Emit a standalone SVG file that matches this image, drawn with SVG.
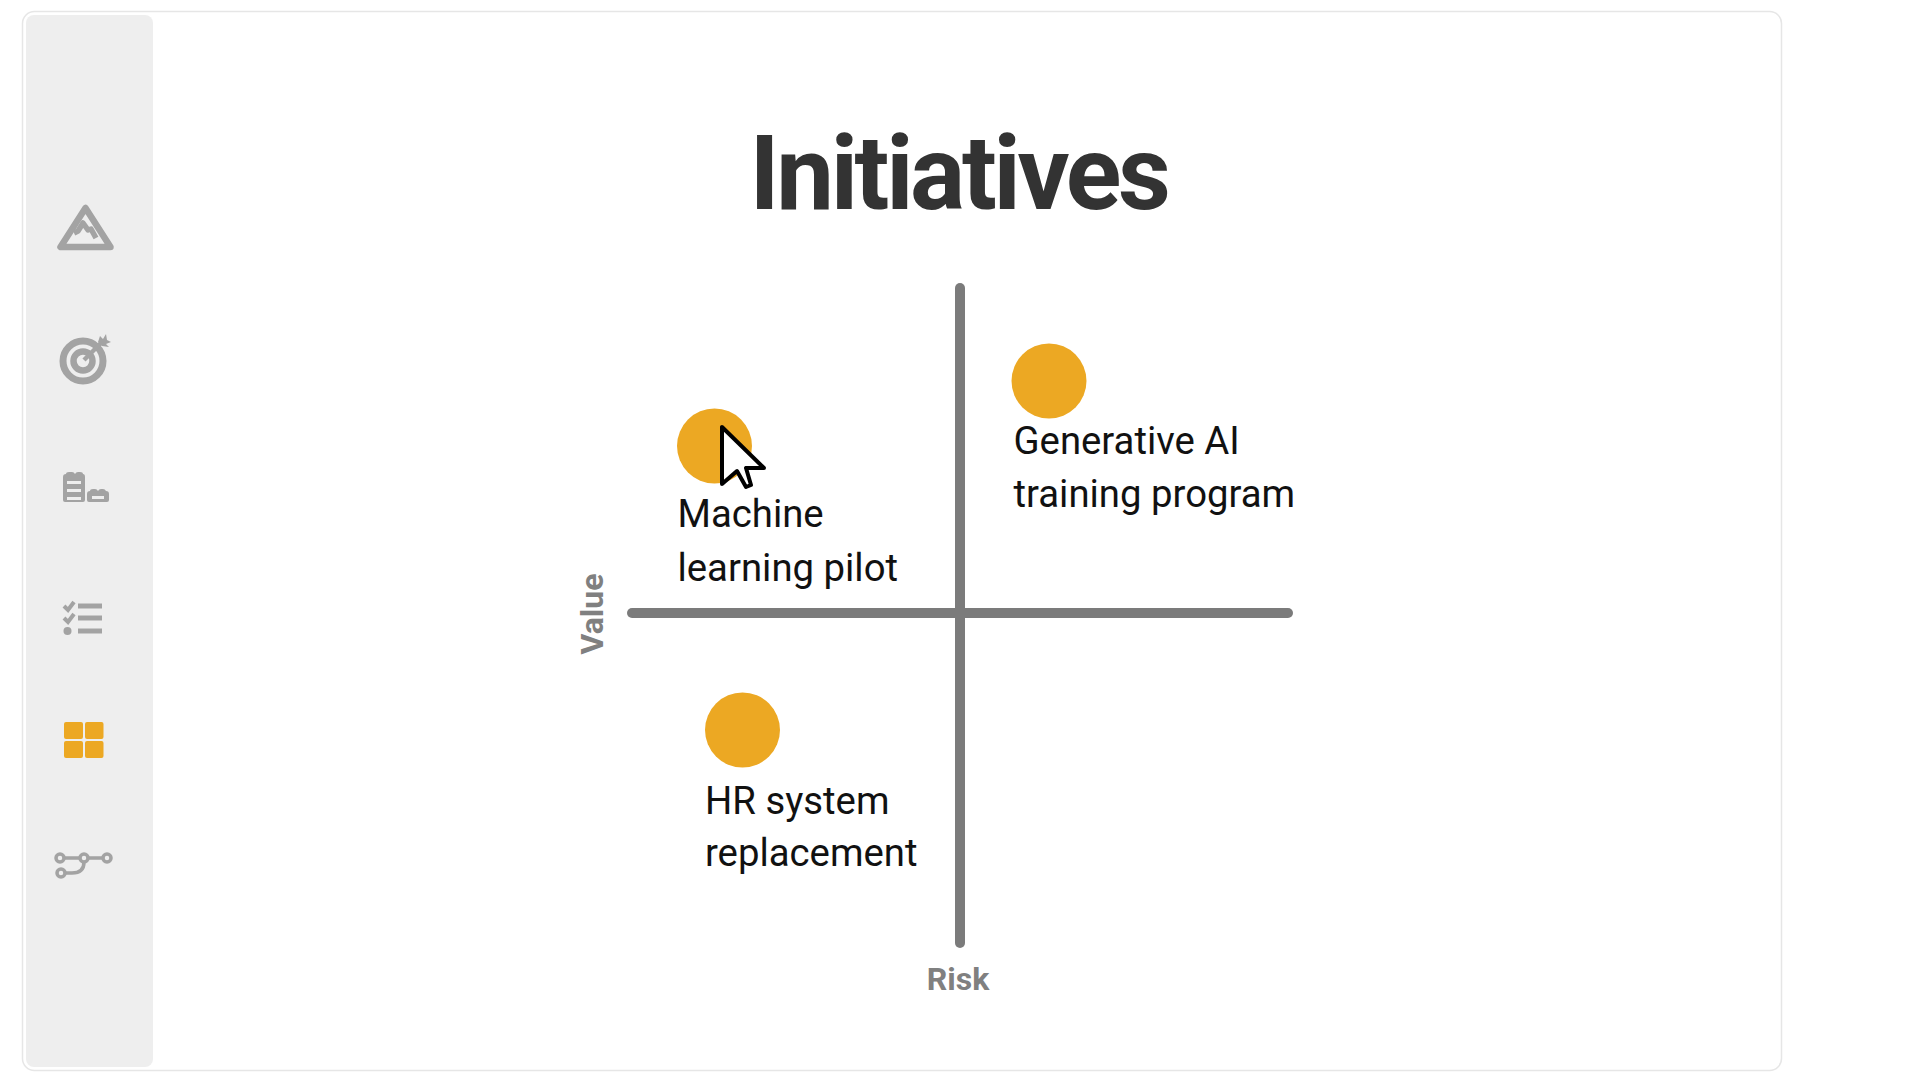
<svg xmlns="http://www.w3.org/2000/svg" width="1920" height="1080" viewBox="0 0 1920 1080">
<style>
.lbl{font-family:Roboto,"Liberation Sans",sans-serif;font-size:38.3px;fill:#111}
.ax{font-family:Roboto,"Liberation Sans",sans-serif;font-size:32px;font-weight:700;fill:#808080}
.dot{fill:#eca823}
.axis{stroke:#7b7b7b;stroke-width:10;stroke-linecap:round;fill:none}
.ic{fill:#a3a3a3}
.ics{fill:none;stroke:#a3a3a3}
</style>
<rect width="1920" height="1080" fill="#fff"/>
<rect x="22.5" y="11.5" width="1759" height="1059" rx="12" fill="#fff" stroke="#e6e6e6" stroke-width="1.5"/>
<rect x="26" y="15" width="127" height="1052" rx="8" fill="#eeeeee"/>
<g id="icon-mountain"><path class="ics" stroke-width="6.500" stroke-linejoin="round" d="M85.500 208 L60.500 247 L110.500 247 Z"/><path class="ics" stroke-width="5.500" stroke-linejoin="round" d="M74 233 L78 231 L83 223 L88 230 L91 229 L96 238"/></g>
<g id="icon-target"><circle class="ics" cx="83" cy="361" r="20" stroke-width="7"/><circle class="ics" cx="83" cy="361" r="9.500" stroke-width="6.500"/><path class="ics" stroke-width="4.500" d="M84 360 L101 343"/><path class="ic" d="M98 342 L100 336 L103 339 L106 334 L107 340 L111 342 L106 344 L109 347 L102 346 Z"/></g>
<g id="icon-blocks"><path class="ic" d="M63 477 Q63 474 66 474 Q66 472 69 472 L72 472 Q74 472 75 474 Q76 472 78 472 L80 472 Q83 472 83 474 Q85 474 85 477 L85 500 Q85 502 83 502 L65 502 Q63 502 63 500 Z"/><path fill="#eeeeee" d="M67 481 H81 V484 H67 Z M67 489 H81 V492 H67 Z M67 497 H81 V500 H67 Z"/><path class="ic" d="M87 494 Q87 491 90 491 Q90 489 93 489 L95 489 Q97 489 98 491 Q99 489 101 489 L103 489 Q105 489 106 491 Q109 491 109 494 L109 500 Q109 502 107 502 L89 502 Q87 502 87 500 Z"/><path fill="#eeeeee" d="M92 496 H104 V499 H92 Z"/></g>
<g id="icon-checklist"><path class="ics" stroke-width="4" d="M64 606 L68 610 L74 602 M64 618 L68 622 L74 614"/><circle class="ic" cx="67.500" cy="631" r="4"/><path class="ics" stroke-width="5" d="M78 606 H102 M78 618 H102 M78 631 H102"/></g>
<g id="icon-grid" fill="#eca823"><rect x="64" y="722" width="19" height="17" rx="2"/><rect x="85" y="722" width="18.500" height="17" rx="2"/><rect x="64" y="741" width="19" height="17" rx="2"/><rect x="85" y="741" width="18.500" height="17" rx="2"/></g>
<g id="icon-branch" class="ics" stroke-width="3.500"><path d="M64 858 H80 M88 858 H103"/><path d="M65 873 H72 Q84 873 84 862"/><circle cx="60" cy="858" r="4"/><circle cx="84" cy="858" r="4"/><circle cx="107" cy="858" r="4"/><circle cx="61" cy="873" r="4"/></g>
<text id="title" x="958.500" y="209" text-anchor="middle" font-family="Roboto,'Liberation Sans',sans-serif" font-size="103" font-weight="700" letter-spacing="-3.300" fill="#333">Initiatives</text>
<g id="connectors"><path class="axis" d="M960 288 V943"/><path class="axis" d="M632 613 H1288"/></g>
<text class="ax" x="958" y="990" text-anchor="middle">Risk</text>
<text class="ax" transform="translate(603 614) rotate(-90)" text-anchor="middle">Value</text>
<g id="node-ml"><circle class="dot" cx="714.500" cy="446" r="37.500"/><text class="lbl"><tspan x="677.500" y="527">Machine</tspan><tspan x="677.500" y="581">learning pilot</tspan></text></g>
<g id="node-genai"><circle class="dot" cx="1049" cy="381" r="37.500"/><text class="lbl"><tspan x="1013.500" y="454">Generative AI</tspan><tspan x="1013.500" y="507">training program</tspan></text></g>
<g id="node-hr"><circle class="dot" cx="742.500" cy="730" r="37.500"/><text class="lbl"><tspan x="705" y="814">HR system</tspan><tspan x="705" y="866">replacement</tspan></text></g>
<path id="cursor" d="M722 427 L722 484 L737 471 L746 487 L751 485 L746 468 L764 468 Z" fill="#fff" stroke="#000" stroke-width="4" stroke-linejoin="round"/>
</svg>
